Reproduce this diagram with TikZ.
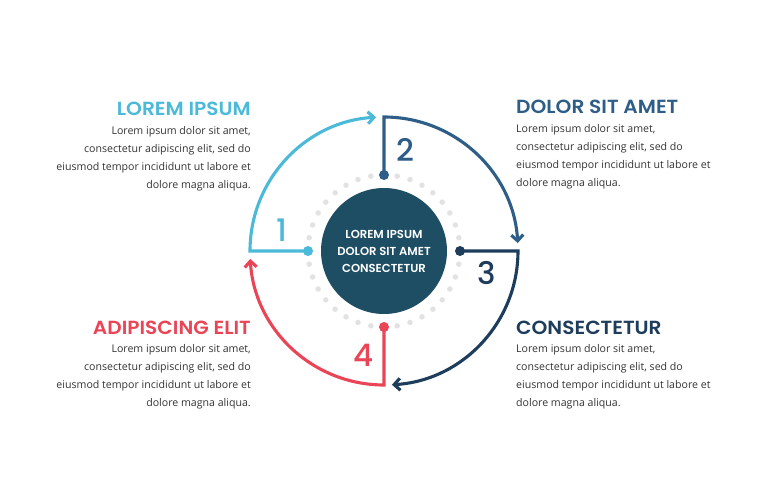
\documentclass[tikz,border=0pt]{standalone}
\usepackage{fontspec}
\setmainfont{Open Sans}
\IfFontExistsTF{Poppins SemiBold}
  {\newfontfamily\headfont{Poppins SemiBold}[FakeStretch=1.06]
   \newfontfamily\centfont{Poppins SemiBold}}
  {\newfontfamily\headfont{Poppins}[FakeBold=1.2,FakeStretch=1.06]
   \newfontfamily\centfont{Poppins}[FakeBold=1.2]}
\IfFontExistsTF{Poppins Medium}
  {\newfontfamily\numfont{Poppins Medium}}
  {\newfontfamily\numfont{Poppins}[FakeBold=0.8]}
\usetikzlibrary{arrows.meta}
\definecolor{cyanc}{HTML}{4BBAD9}
\definecolor{bluec}{HTML}{2E5E88}
\definecolor{navyc}{HTML}{1E3C5C}
\definecolor{redc}{HTML}{EA4556}
\definecolor{centerc}{HTML}{1E4E64}
\definecolor{bodyc}{HTML}{333333}
\definecolor{dotc}{HTML}{E2E2E2}
\tikzset{
  x=1pt,y=1pt,
  flow/.style={line width=3.1pt, -{Straight Barb[length=6pt,width=12pt,line width=3.1pt]}},
  enddot/.style={circle, fill=#1, minimum size=10pt, inner sep=0pt},
  ringdot/.style={circle, fill=dotc, minimum size=5.5pt, inner sep=0pt},
  num/.style={font=\numfont\fontsize{31}{31}\selectfont, text=#1},
  head/.style={font=\headfont\fontsize{19}{19}\selectfont, text=#1, inner sep=0pt},
  bodyr/.style={font=\fontsize{10.6}{18}\selectfont, text=bodyc, align=right, inner sep=0pt},
  bodyl/.style={font=\fontsize{10.6}{18}\selectfont, text=bodyc, align=left, inner sep=0pt},
}
\begin{document}
\begin{tikzpicture}
\useasboundingbox (-384,-252) rectangle (384,251);
\fill[white] (-384,-252) rectangle (384,251);
% ring of dots
\foreach \a in {0,10,...,350} \node[ringdot] at (\a:76) {};
% center
\node[circle, fill=centerc, minimum size=126pt, inner sep=0pt, text=white,
      font=\centfont\fontsize{11.6}{17}\selectfont, align=center] (c) at (0,0)
      {LOREM IPSUM\\DOLOR SIT AMET\\CONSECTETUR};
% end dots
\node[enddot=cyanc] (d1) at (-76,0) {};
\node[enddot=bluec] (d2) at (0,76) {};
\node[enddot=navyc] (d3) at (76,0) {};
\node[enddot=redc]  (d4) at (0,-76) {};
% flows
\draw[flow, cyanc] (d1.center) -- (-134,0) arc[start angle=180, end angle=93.4, radius=134];
\draw[flow, bluec] (d2.center) -- (0,134) arc[start angle=90, end angle=3.4, radius=134];
\draw[flow, navyc] (d3.center) -- (134,0) arc[start angle=0, end angle=-86.6, radius=134];
\draw[flow, redc] (d4.center) -- (0,-134) arc[start angle=270, end angle=183.4, radius=134];
% numbers
\node[num=cyanc] (n1) at (-102,21) {1};
\node[num=bluec] (n2) at (21,101) {2};
\node[num=navyc] (n3) at (103,-22) {3};
\node[num=redc]  (n4) at (-20,-104) {4};
% texts top left
\node[head=cyanc, anchor=base east] (h1) at (-133,135) {LOREM IPSUM};
\node[bodyr, anchor=north east] (b1) at (-133,125) {Lorem ipsum dolor sit amet,\\consectetur adipiscing elit, sed do\\eiusmod tempor incididunt ut labore et\\dolore magna aliqua.};
% top right
\node[head=bluec, anchor=base west] (h2) at (132,137) {DOLOR SIT AMET};
\node[bodyl, anchor=north west] (b2) at (132,127) {Lorem ipsum dolor sit amet,\\consectetur adipiscing elit, sed do\\eiusmod tempor incididunt ut labore et\\dolore magna aliqua.};
% bottom left
\node[head=redc, anchor=base east] (h4) at (-133,-83) {ADIPISCING ELIT};
\node[bodyr, anchor=north east] (b4) at (-133,-93) {Lorem ipsum dolor sit amet,\\consectetur adipiscing elit, sed do\\eiusmod tempor incididunt ut labore et\\dolore magna aliqua.};
% bottom right
\node[head=navyc, anchor=base west] (h3) at (132,-83) {CONSECTETUR};
\node[bodyl, anchor=north west] (b3) at (132,-93) {Lorem ipsum dolor sit amet,\\consectetur adipiscing elit, sed do\\eiusmod tempor incididunt ut labore et\\dolore magna aliqua.};
\end{tikzpicture}
\end{document}
